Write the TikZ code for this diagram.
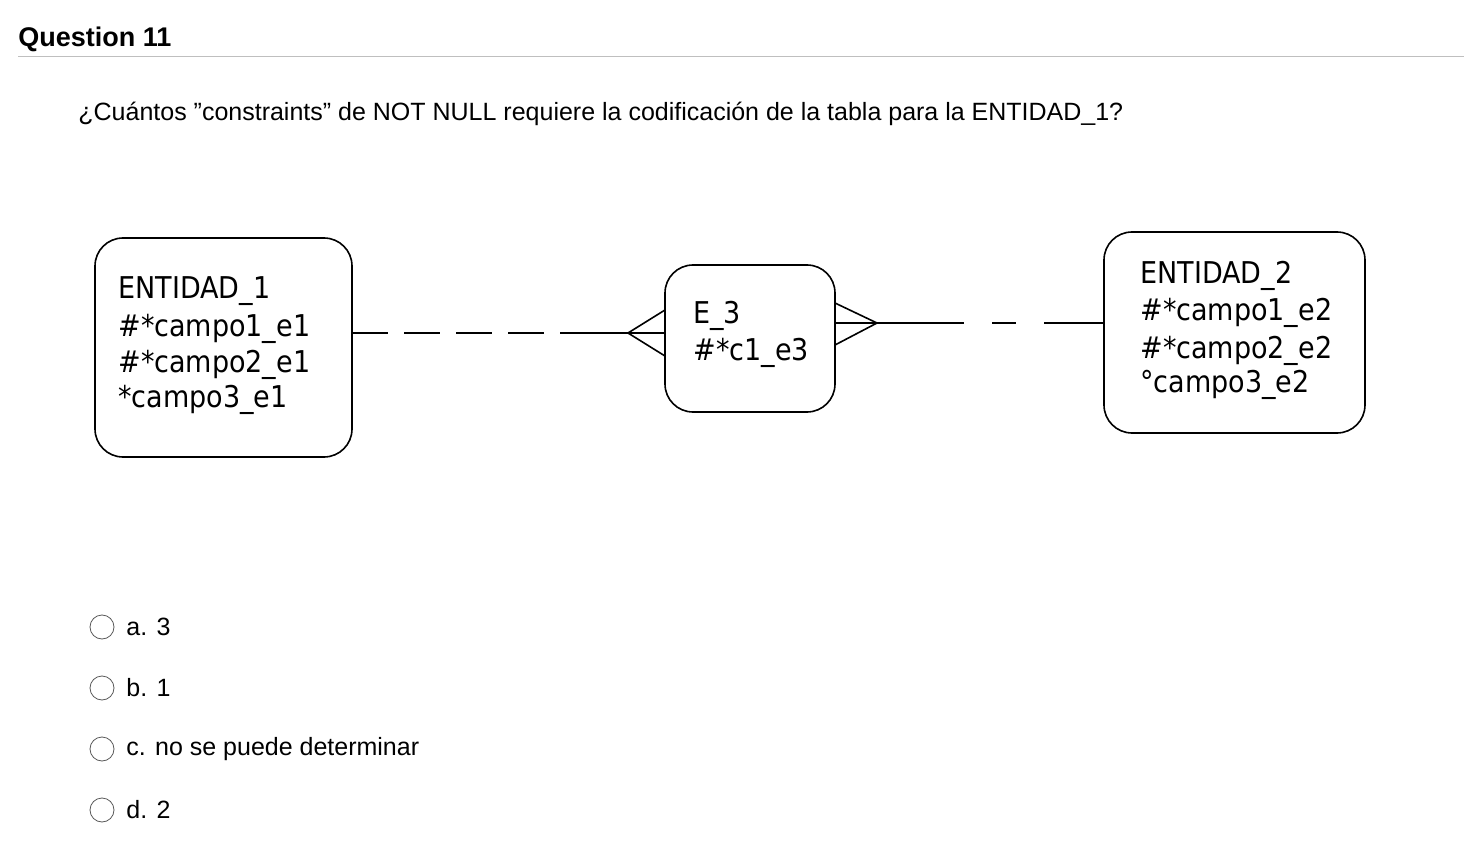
\documentclass[tikz,border=0pt]{standalone}
\usepackage{fontspec}
\setmainfont{Liberation Sans}
\newfontfamily\erfont{DejaVu Sans Condensed}
\usetikzlibrary{positioning}
\tikzset{
  entbox/.style={draw,thick,rounded corners=14pt,anchor=north west},
  attr/.style={font=\erfont\fontsize{15}{18}\selectfont,anchor=base west,inner sep=0pt},
  opt/.style={draw,gray!70!black,circle,minimum size=12pt,inner sep=0pt},
  opttext/.style={font=\fontsize{12.5}{15}\selectfont,anchor=west,inner sep=0pt}
}
\begin{document}
\begin{tikzpicture}[x=0.5pt,y=-0.5pt]
\useasboundingbox (0,0) rectangle (1464,856);
% heading
\node[anchor=base west,inner sep=0pt,font=\bfseries\fontsize{13.5}{16}\selectfont] (title) at (18,47) {Question 11};
\draw[gray!50] (18,56) -- (1464,56);
\node[anchor=base west,inner sep=0pt,font=\fontsize{12.5}{15}\selectfont] (question) at (78,121)
  {¿Cuántos "constraints" de NOT NULL requiere la codificación de la tabla para la ENTIDAD\_1?};
% entities
\draw[entbox] (95,238) rectangle (352,457);
\node[attr] (e1a) at (118,299) {ENTIDAD\_1};
\node[attr] (e1b) at (118,336) {\#*campo1\_e1};
\node[attr] (e1c) at (118,372) {\#*campo2\_e1};
\node[attr] (e1d) at (118,408) {*campo3\_e1};
\draw[entbox] (665,265) rectangle (835,412);
\node[attr] (e3a) at (693,323) {E\_3};
\node[attr] (e3b) at (693,360) {\#*c1\_e3};
\draw[entbox] (1104,232) rectangle (1365,433);
\node[attr] (e2a) at (1140,284) {ENTIDAD\_2};
\node[attr] (e2b) at (1140,321) {\#*campo1\_e2};
\node[attr] (e2c) at (1140,358) {\#*campo2\_e2};
\node[attr] (e2d) at (1140,393) {°campo3\_e2};
% relations
\coordinate (l1) at (352,333); \coordinate (l2) at (565,333);
\coordinate (l3) at (628,333); \coordinate (l4) at (665,333);
\draw[very thick,dash pattern=on 18pt off 8pt] (l1) -- (l2);
\draw[very thick] (l2) -- (l4);
\draw[thick] (665,310) -- (l3) -- (665,356);
\coordinate (r1) at (835,323); \coordinate (r2) at (877,323);
\coordinate (r3) at (940,323); \coordinate (r4) at (1060,323);
\coordinate (r5) at (1104,323);
\draw[very thick] (r1) -- (r3);
\draw[very thick,dash pattern=on 12pt off 14pt] (r3) -- (r4);
\draw[very thick] (r4) -- (r5);
\draw[thick] (835,303) -- (r2) -- (835,345);
% answers
\foreach \y/\t [count=\i] in {627/a. 3,688/b. 1,749/c. no se puede determinar,810/d. 2}{
  \node[opt] (o\i) at (102,\y) {};
  \node[opttext,right=12pt of o\i.center] (t\i) {\t};
}
\end{tikzpicture}
\end{document}
